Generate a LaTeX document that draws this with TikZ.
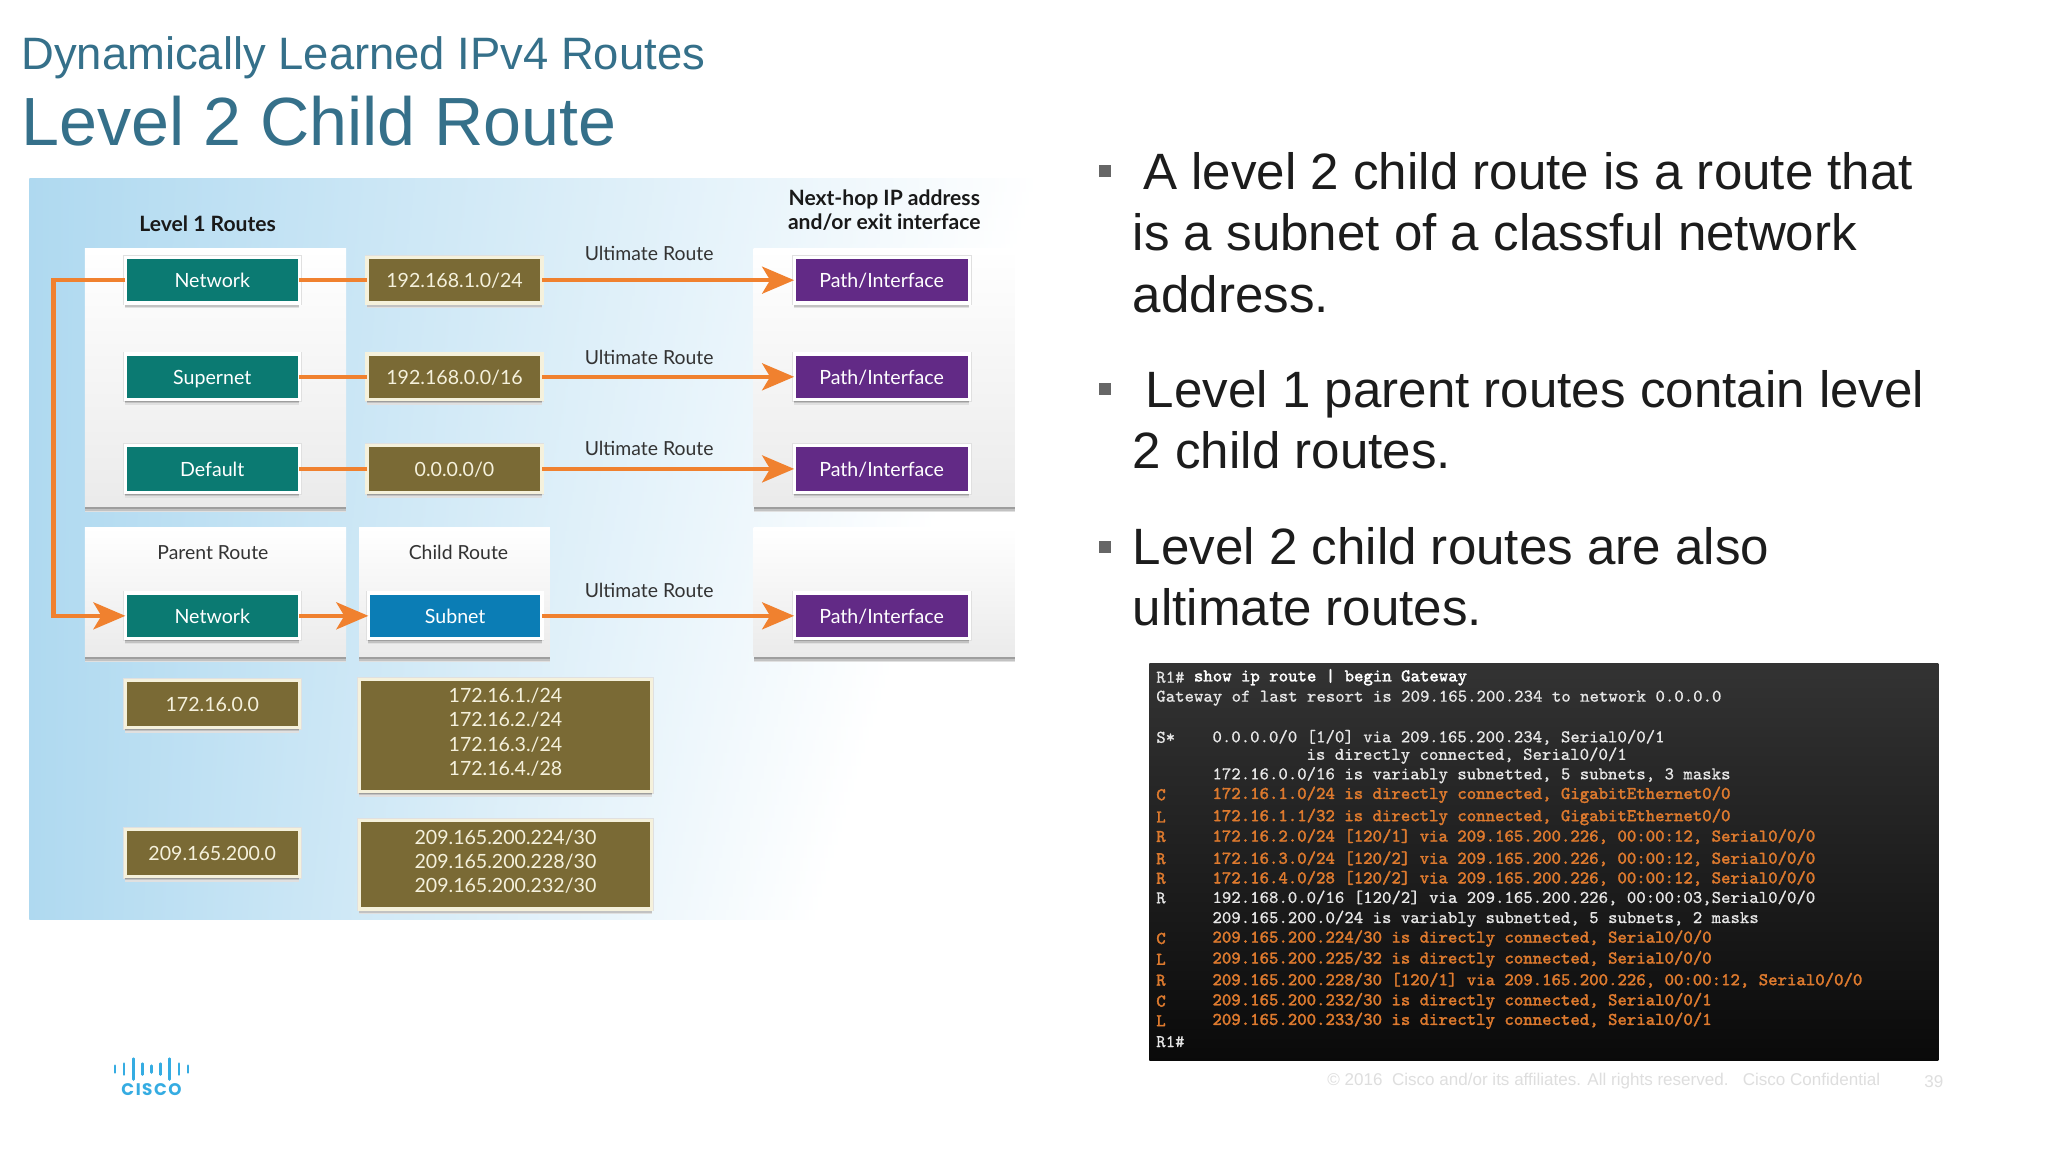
\documentclass[tikz,border=0pt]{standalone}
\usepackage{fontspec}
\setmainfont{Liberation Sans}
\newfontfamily\diag{Lato}
\newfontfamily\logofont{Poppins}[LetterSpace=9]
\newfontfamily\termfont{Latin Modern Mono}[FakeBold=0.4]
\newfontfamily\termbold{Latin Modern Mono}[FakeBold=1.6]
\usetikzlibrary{arrows.meta,shadows}
\definecolor{titleblue}{HTML}{35708A}
\definecolor{tealbox}{HTML}{0B7A72}
\definecolor{olivebox}{HTML}{7A6A35}
\definecolor{purplebox}{HTML}{622A86}
\definecolor{bluebox}{HTML}{0B7DB5}
\definecolor{arrowor}{HTML}{F0812F}
\definecolor{cream}{HTML}{F5F1DC}
\definecolor{bodyblack}{HTML}{1C1C1C}
\definecolor{termor}{HTML}{DE7A2E}
\definecolor{termwh}{HTML}{E6E6E6}
\definecolor{ciscoblue}{HTML}{35ACE2}
\definecolor{bgleft}{HTML}{AFD9F0}
\definecolor{bgmid}{HTML}{D2E9F6}
\newcommand{\Un}{0.65306pt}
\tikzset{
  x=\Un, y=-\Un,
  softshadow/.style={
     copy shadow={shadow xshift=0pt,shadow yshift=-2.6pt,fill=black!12,draw=none},
     copy shadow={shadow xshift=0pt,shadow yshift=-1.9pt,fill=black!24,draw=none},
     copy shadow={shadow xshift=0pt,shadow yshift=-1.2pt,fill=black!38,draw=none}},
  panel/.style={rectangle,inner sep=0pt,outer sep=0pt,top color=white,bottom color=black!8,softshadow},
  boxbase/.style={rectangle,inner sep=0pt,outer sep=0pt,draw=white,line width=1.6pt,
     text=white,font=\diag\fontsize{9.8}{12.1}\selectfont,align=center,
     execute at begin node={\rule{0pt}{11.1pt}},execute at end node=\strut,
     copy shadow={shadow xshift=0pt,shadow yshift=0pt,fill=black!12,draw=black!12,line width=2.4pt},
     softshadow},
  tealnode/.style={boxbase,fill=tealbox},
  olivenode/.style={boxbase,fill=olivebox,draw=cream,text=cream},
  purplenode/.style={boxbase,fill=purplebox},
  bluenode/.style={boxbase,fill=bluebox},
  lab/.style={font=\diag\fontsize{9.7}{12}\selectfont,text=black!80,inner sep=0pt},
  blab/.style={font=\diag\bfseries\fontsize{10.55}{12}\selectfont,text=black!90,inner sep=0pt},
  conn/.style={draw=arrowor,line width=2.1pt},
  arr/.style={conn,-{Stealth[length=16pt,width=13.5pt,inset=4pt]}},
  bul/.style={font=\fontsize{25.55}{30}\selectfont,text=bodyblack,anchor=base west,inner sep=0pt},
  sq/.style={rectangle,fill=black!60,minimum size=6pt,inner sep=0pt},
  tt/.style={font=\termfont\fontsize{8.97}{10}\selectfont,anchor=west,inner sep=0pt},
  ttb/.style={font=\termbold\fontsize{8.97}{10}\selectfont,anchor=west,inner sep=0pt},
  foot/.style={font=\fontsize{8.52}{10}\selectfont,text=black!13,inner sep=0pt}
}
\newcommand{\bx}[7]{%
  \pgfmathsetmacro{\bxw}{(#5-#3)*0.65306}%
  \pgfmathsetmacro{\bxh}{(#6-#4)*0.65306}%
  \node[#2,minimum width=\bxw pt,minimum height=\bxh pt] (#1) at ({(#3+#5)/2},{(#4+#6)/2}) {#7};}
\newcommand{\tll}[4]{%
  \node[tt,text=#2] (tp#1) at (885,#1.5) {#3};
  \node[tt,text=#2] (tx#1) at (928,#1.5) {#4};}
\newcommand{\tlo}[3]{%
  \node[ttb,text=termor] (tp#1) at (885,#1.5) {#2};
  \node[ttb,text=termor] (tx#1) at (928,#1.5) {#3};}
\begin{document}
\begin{tikzpicture}
\useasboundingbox (0,0) rectangle (1568,882);
\fill[white] (0,0) rectangle (1568,882);
\foreach \i in {0,...,56}{
  \pgfmathsetmacro{\ya}{137+\i*10}
  \pgfmathsetmacro{\yb}{min(\ya+11,704)}
  \pgfmathsetmacro{\xe}{795-\i*3}
  \shade[left color=bgleft,middle color=bgmid,right color=white]
     (22.5,\ya) rectangle (\xe,\yb);
}
\node[anchor=base west,inner sep=0pt,text=titleblue,font=\fontsize{22.7}{26}\selectfont] (t1) at (16,53) {Dynamically Learned IPv4 Routes};
\node[anchor=base west,inner sep=0pt,text=titleblue,font=\fontsize{34.1}{40}\selectfont] (t2) at (16,111.5) {Level 2 Child Route};
\bx{pa}{panel}{65}{190}{265}{388}{}
\bx{pb}{panel}{577}{190}{777}{388}{}
\bx{pc}{panel}{65}{404}{265}{503}{}
\bx{pd}{panel}{275}{404}{421}{503}{}
\bx{pe}{panel}{577}{404}{777}{503}{}
\node[blab] (h1) at (159,171) {Level 1 Routes};
\node[blab,align=center] (h2) at (677,161) {Next-hop IP address\\and/or exit interface};
\node[lab] (u1) at (497,194) {Ultimate Route};
\node[lab] (u2) at (497,274) {Ultimate Route};
\node[lab] (u3) at (497,343) {Ultimate Route};
\node[lab] (u4) at (497,452) {Ultimate Route};
\node[lab] (l1) at (163,423) {Parent Route};
\node[lab] (l2) at (351,423) {Child Route};
\bx{n1}{tealnode}{96}{197}{229}{232}{Network}
\bx{n2}{tealnode}{96}{271}{229}{306}{Supernet}
\bx{n3}{tealnode}{96}{341}{229}{377}{Default}
\bx{n4}{tealnode}{96}{454}{229}{489}{Network}
\bx{i1}{olivenode}{281}{197}{415}{232}{192.168.1.0/24}
\bx{i2}{olivenode}{281}{271}{415}{306}{192.168.0.0/16}
\bx{i3}{olivenode}{281}{341}{415}{377}{0.0.0.0/0}
\bx{s4}{bluenode}{282}{454}{415}{489}{Subnet}
\bx{q1}{purplenode}{608}{197}{742}{232}{Path/Interface}
\bx{q2}{purplenode}{608}{271}{742}{306}{Path/Interface}
\bx{q3}{purplenode}{608}{341}{742}{377}{Path/Interface}
\bx{q4}{purplenode}{608}{454}{742}{489}{Path/Interface}
\bx{a1}{olivenode}{96}{521}{229}{557}{172.16.0.0}
\bx{a2}{olivenode}{96}{635}{229}{671}{209.165.200.0}
\bx{b1}{olivenode}{275}{520}{499}{606}{172.16.1./24\\172.16.2./24\\172.16.3./24\\172.16.4./28}
\bx{b2}{olivenode}{275}{628}{499}{696}{209.165.200.224/30\\209.165.200.228/30\\209.165.200.232/30}
\coordinate (cu) at (41,214.5);
\coordinate (cd) at (41,471.5);
\draw[conn] (n1.east) -- (i1.west);
\draw[conn] (n2.east) -- (i2.west);
\draw[conn] (n3.east) -- (i3.west);
\draw[arr] (i1.east) -- (q1.west);
\draw[arr] (i2.east) -- (q2.west);
\draw[arr] (i3.east) -- (q3.west);
\draw[arr] (s4.east) -- (q4.west);
\draw[arr] (n4.east) -- (s4.west);
\draw[arr] (n1.west) -- (cu) -- (cd) -- (n4.west);
\node[sq] (s1) at (846,131) {};
\node[sq] (s2) at (846,298) {};
\node[sq] (s3) at (846,419) {};
\node[bul] (b11) at (875,145) {A level 2 child route is a route that};
\node[bul] (b12) at (867,192) {is a subnet of a classful network};
\node[bul] (b13) at (867,239) {address.};
\node[bul] (b21) at (877,312) {Level 1 parent routes contain level};
\node[bul] (b22) at (867,359) {2 child routes.};
\node[bul] (b31) at (867,432) {Level 2 child routes are also};
\node[bul] (b32) at (867,479) {ultimate routes.};
\shade[top color=black!80,bottom color=black!96] (880,508) rectangle (1484,812);
\node[tt,text=termwh] (tp518) at (885,518.5) {R1\#};
\node[ttb,text=white] (tx518) at (913.8,518.5) {show ip route | begin Gateway};
\node[tt,text=termwh] (tp534) at (885,534.5) {Gateway of last resort is 209.165.200.234 to network 0.0.0.0};
\tll{564}{termwh}{S*}{0.0.0.0/0 [1/0] via 209.165.200.234, Serial0/0/1}
\node[tt,text=termwh] (tx578) at (1000,578.5) {is directly connected, Serial0/0/1};
\node[tt,text=termwh] (tx593) at (928,593.5) {172.16.0.0/16 is variably subnetted, 5 subnets, 3 masks};
\tlo{608}{C}{172.16.1.0/24 is directly connected, GigabitEthernet0/0}
\tlo{625}{L}{172.16.1.1/32 is directly connected, GigabitEthernet0/0}
\tlo{640}{R}{172.16.2.0/24 [120/1] via 209.165.200.226, 00:00:12, Serial0/0/0}
\tlo{657}{R}{172.16.3.0/24 [120/2] via 209.165.200.226, 00:00:12, Serial0/0/0}
\tlo{672}{R}{172.16.4.0/28 [120/2] via 209.165.200.226, 00:00:12, Serial0/0/0}
\tll{687}{termwh}{R}{192.168.0.0/16 [120/2] via 209.165.200.226, 00:00:03,Serial0/0/0}
\node[tt,text=termwh] (tx703) at (928,703.5) {209.165.200.0/24 is variably subnetted, 5 subnets, 2 masks};
\tlo{718}{C}{209.165.200.224/30 is directly connected, Serial0/0/0}
\tlo{734}{L}{209.165.200.225/32 is directly connected, Serial0/0/0}
\tlo{750}{R}{209.165.200.228/30 [120/1] via 209.165.200.226, 00:00:12, Serial0/0/0}
\tlo{766}{C}{209.165.200.232/30 is directly connected, Serial0/0/1}
\tlo{781}{L}{209.165.200.233/30 is directly connected, Serial0/0/1}
\node[tt,text=termwh] (tp797) at (885,797.5) {R1\#};
\node[foot,anchor=west] (f1) at (1016,828) {© 2016\ \ Cisco and/or its affiliates. All rights reserved.\ \ \ Cisco Confidential};
\node[foot,anchor=west] (f2) at (1473,828) {39};
\foreach \xx/\hh in {88/2.6,95/4.2,102/8,109/4.2,116/2.6,123/4.2,130/8,137/4.2,144/2.6}{
  \draw[ciscoblue,line width=1.3pt,line cap=round] (\xx,818.5-\hh) -- (\xx,818.5+\hh);
}
\node[inner sep=0pt,text=ciscoblue,font=\logofont\bfseries\fontsize{8.4}{10}\selectfont] (lg) at (116,834) {CISCO};
\end{tikzpicture}
\end{document}
